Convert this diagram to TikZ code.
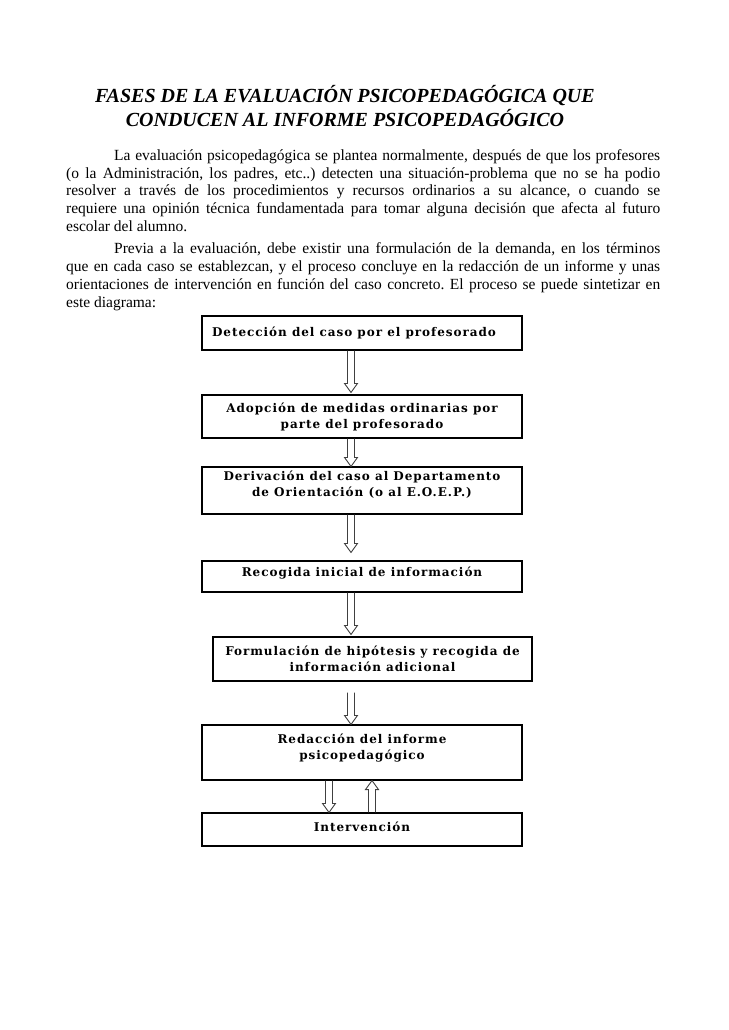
\documentclass[tikz,border=0pt]{standalone}
\usepackage{fontspec}
\setmainfont{Liberation Serif}
\newfontfamily\boxfont{DejaVu Serif}[LetterSpace=8]
\usetikzlibrary{calc}

\begin{document}
\begin{tikzpicture}[x=1pt, y=-1pt,
  boxnode/.style={draw, line width=1.1pt, minimum width=320pt, inner sep=0pt, align=center, font=\boxfont\bfseries\fontsize{12}{16}\selectfont},
  hollow/.style={draw=black!75, line width=0.9pt, to path={
    let \p1=(\tikztostart), \p2=(\tikztotarget), \n1={sign(\y2-\y1)*9pt} in
    (\x1-3.5pt,\y1) -- (\x1-3.5pt,\y2-\n1) -- (\x1-6.5pt,\y2-\n1) -- (\x1,\y2)
    -- (\x1+6.5pt,\y2-\n1) -- (\x1+3.5pt,\y2-\n1) -- (\x1+3.5pt,\y1)}}]
\useasboundingbox[fill=white] (0,0) rectangle (728,1030);

\node[align=center, font=\bfseries\itshape\fontsize{20}{24}\selectfont] (titulo) at (345,106.5) {FASES DE LA EVALUACIÓN PSICOPEDAGÓGICA QUE\\CONDUCEN AL INFORME PSICOPEDAGÓGICO};

\node[anchor=north west, inner sep=0pt, text width=594pt, align=justify, font=\fontsize{15.5}{17.9}\selectfont] (texto) at (66,149) {\parindent=48pt\parskip=3.8pt\hyphenpenalty=10000\frenchspacing
\hspace*{48pt}La evaluación psicopedagógica se plantea normalmente, después de que los profesores\linebreak
(o la Administración, los padres, etc..) detecten una situación-problema que no se ha podio\linebreak
resolver a través de los procedimientos y recursos ordinarios a su alcance, o cuando se\linebreak
requiere una opinión técnica fundamentada para tomar alguna decisión que afecta al futuro\linebreak
escolar del alumno.\par
Previa a la evaluación, debe existir una formulación de la demanda, en los términos\linebreak
que en cada caso se establezcan, y el proceso concluye en la redacción de un informe y unas\linebreak
orientaciones de intervención en función del caso concreto. El proceso se puede sintetizar en\linebreak
este diagrama:};

\node[boxnode, minimum height=34pt] (det) at (362,333) {Detección del caso por el profesorado\hspace*{16pt}};
\node[boxnode, minimum height=43pt] (ado) at (362,416.5) {Adopción de medidas ordinarias por\\parte del profesorado};
\node[boxnode, minimum height=47pt, text depth=14pt] (der) at (362,490.5) {Derivación del caso al Departamento\\de Orientación (o al E.O.E.P.)};
\node[boxnode, minimum height=31pt, text depth=9.5pt] (rec) at (362,576.5) {Recogida inicial de información};
\node[boxnode, minimum height=44pt, minimum width=319pt] (hip) at (372.5,659) {Formulación de hipótesis y recogida de\\información adicional};
\node[boxnode, minimum height=55pt, text depth=11.5pt] (red) at (362,752.5) {Redacción del informe\\psicopedagógico};
\node[boxnode, minimum height=33pt, text depth=5pt] (inter) at (362,829.5) {Intervención};

\draw[hollow] ([xshift=-11pt]det.south) to ([xshift=-11pt,yshift=2pt]ado.north);
\draw[hollow] ([xshift=-11pt]ado.south) to ([xshift=-11pt]der.north);
\draw[hollow] ([xshift=-11pt]der.south) to ([xshift=-11pt,yshift=8pt]rec.north);
\draw[hollow] ([xshift=-11pt]rec.south) to ([xshift=-21.5pt,yshift=2pt]hip.north);
\draw[hollow] ([xshift=-21.5pt,yshift=-11pt]hip.south) to ([xshift=-11pt]red.north);
\draw[hollow] ([xshift=-33pt]red.south) to ([xshift=-33pt]inter.north);
\draw[hollow] ([xshift=10pt]inter.north) to ([xshift=10pt]red.south);

\end{tikzpicture}
\end{document}
